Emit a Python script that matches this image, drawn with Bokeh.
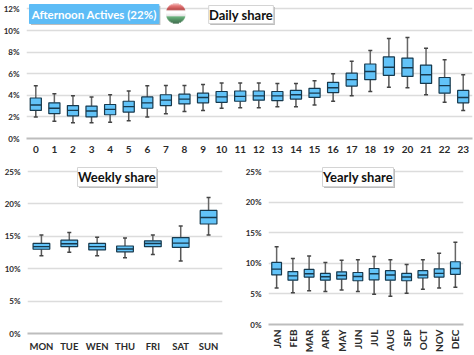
from bokeh.plotting import figure
from bokeh.layouts import column, row
from bokeh.models import Range1d, FixedTicker, Label, ColumnDataSource
from bokeh.embed import file_html
from bokeh.resources import INLINE

hours = [str(i) for i in range(24)]
h_hi = [4.88,4.15,3.95,3.85,4.05,4.4,4.88,4.9,4.9,5.0,5.15,5.15,5.15,5.1,5.1,5.35,6.0,7.15,8.15,9.25,9.35,8.35,7.3,5.9]
h_q3 = [3.75,3.3,3.05,3.0,3.15,3.45,3.85,4.05,4.1,4.2,4.35,4.4,4.4,4.35,4.45,4.65,5.2,6.05,6.9,7.55,7.45,6.8,5.65,4.45]
h_med = [3.1,2.8,2.6,2.55,2.7,2.95,3.3,3.55,3.65,3.8,3.85,3.9,3.95,3.95,4.05,4.2,4.7,5.45,6.2,6.6,6.55,5.9,4.9,3.8]
h_q1 = [2.6,2.3,2.1,2.0,2.2,2.45,2.8,3.05,3.2,3.3,3.35,3.45,3.55,3.5,3.65,3.8,4.25,4.85,5.45,5.85,5.75,5.1,4.2,3.3]
h_lo = [2.0,1.6,1.45,1.45,1.5,1.65,2.0,2.3,2.5,2.6,2.8,2.85,2.85,2.95,2.95,3.1,3.45,3.95,4.35,4.75,4.7,4.05,3.35,2.6]

days = ["MON","TUE","WEN","THU","FRI","SAT","SUN"]
d_hi = [15.2,15.6,14.85,14.75,15.2,16.6,21.0]
d_q3 = [13.9,14.4,13.9,13.5,14.3,14.8,19.0]
d_med = [13.4,13.85,13.4,13.05,13.9,13.95,17.9]
d_q1 = [13.0,13.4,12.9,12.6,13.4,13.3,16.9]
d_lo = [12.0,12.55,12.0,11.7,12.2,11.2,15.2]

months = ["JAN","FEB","MAR","APR","MAY","JUN","JUL","AUG","SEP","OCT","NOV","DEC"]
m_hi = [12.7,10.8,11.2,10.15,10.5,10.6,11.1,10.6,9.8,10.6,11.65,13.45]
m_q3 = [10.15,8.65,9.0,8.35,8.6,8.5,9.15,8.8,8.35,8.8,9.1,10.25]
m_med = [9.05,7.95,8.3,7.8,8.0,7.85,8.3,8.1,7.75,8.1,8.35,9.15]
m_q1 = [8.1,7.25,7.75,7.25,7.4,7.15,7.3,7.25,7.15,7.6,7.75,8.2]
m_lo = [5.95,5.2,5.5,5.4,5.65,5.4,4.95,4.6,5.1,5.75,5.95,6.1]

TICK_FONT = "Lato"
BOX = "#62c3f8"
EDGE = "#17394d"


def panel(cats, hi, q3, med, q1, lo, yticks, fx, fy, size, frame, px_per, x_size, standoff, orient=0):
    """frame = page px (left, right, top, bottom of the plot area)."""
    left, right, top, bottom = frame
    w, h = size
    n = len(cats)
    p = figure(width=w, height=h, output_backend="svg", toolbar_location=None,
               x_range=Range1d(-0.5, n - 0.5),
               y_range=Range1d(0, (bottom - top) / px_per),
               min_border_left=left - fx, min_border_right=fx + w - right,
               min_border_top=top - fy, min_border_bottom=fy + h - bottom,
               outline_line_color=None, background_fill_color=None, border_fill_color=None)
    p.xgrid.visible = False
    p.ygrid.grid_line_color = "#dcdcdc"
    p.ygrid.grid_line_width = 1.6
    p.yaxis.ticker = FixedTicker(ticks=yticks)
    p.yaxis.major_label_overrides = {t: f"{t}%" for t in yticks}
    p.xaxis.ticker = FixedTicker(ticks=list(range(n)))
    p.xaxis.major_label_overrides = {i: c for i, c in enumerate(cats)}
    for ax in (p.xaxis[0], p.yaxis[0]):
        ax.major_tick_line_color = None
        ax.minor_tick_line_color = None
        ax.major_tick_out = 0
        ax.major_tick_in = 0
        ax.minor_tick_out = 0
        ax.minor_tick_in = 0
        ax.major_label_text_font = TICK_FONT
        ax.major_label_text_font_style = "bold"
        ax.major_label_text_color = "#2b2b2b"
    p.yaxis.axis_line_color = None
    p.xaxis.axis_line_color = "#bdbdbd"
    p.xaxis.axis_line_width = 1.8
    p.yaxis.major_label_text_font_size = "8px"
    p.yaxis.major_label_standoff = 7
    p.xaxis.major_label_text_font_size = x_size
    p.xaxis.major_label_standoff = standoff
    if orient:
        p.xaxis.major_label_orientation = orient
    xs = list(range(n))
    src = ColumnDataSource(dict(x=xs, x0=[i - 0.3 for i in xs], x1=[i + 0.3 for i in xs],
                                hi=hi, q3=q3, med=med, q1=q1, lo=lo))
    p.segment("x", "q3", "x", "hi", source=src, line_color="#666666", line_width=1.5)
    p.segment("x", "q1", "x", "lo", source=src, line_color="#555555", line_width=1.5)
    p.scatter("x", "hi", source=src, marker="dash", size=4, line_color="#444444", line_width=1.5)
    p.scatter("x", "lo", source=src, marker="dash", size=4, line_color="#444444", line_width=1.5)
    p.vbar("x", 0.6, "q1", "q3", source=src, fill_color=BOX, line_color=EDGE, line_width=1.2)
    p.segment("x0", "med", "x1", "med", source=src, line_color=EDGE, line_width=1.4)

    def dx(px):
        return -0.5 + (px - left) / (right - left) * n

    def dy(py):
        return (bottom - py) / px_per

    return p, dx, dy


def title_box(p, dx, dy, x0, x1, y0, y1, text, size, fill="#ffffff", color="#111111", edge="#d4d4d4"):
    p.quad(left=[dx(x0 + 1.5)], right=[dx(x1 + 1.5)], top=[dy(y0 + 1.5)], bottom=[dy(y1 + 1.5)],
           fill_color="#bdbdbd", line_color=None)
    p.quad(left=[dx(x0)], right=[dx(x1)], top=[dy(y0)], bottom=[dy(y1)],
           fill_color=fill, line_color=edge, line_width=1)
    p.add_layout(Label(x=dx((x0 + x1) / 2), y=dy((y0 + y1) / 2), text=text, text_align="center",
                       text_baseline="middle", text_font="Lato", text_font_style="bold",
                       text_font_size=size, text_color=color))


top, dx, dy = panel(hours, h_hi, h_q3, h_med, h_q1, h_lo, [0, 2, 4, 6, 8, 10, 12],
                    0, 0, (474, 160), (24, 472, 1, 138), 10.8, "10px", 7)
title_box(top, dx, dy, 27, 157, 4, 23, "Afternoon Actives (22%)", "11.5px",
          fill="#5dbcf6", color="#ffffff", edge="#5dbcf6")
title_box(top, dx, dy, 207, 272, 5, 23, "Daily share", "13px")

# round flag badge
cx, cy, r = 174, 13, 10
for i in range(20):
    yy = -r + i + 0.5
    half = (r * r - yy * yy) ** 0.5
    if i < 7:
        col = ["#e8a0a0", "#e57a7a", "#d94f4f", "#cf3a3a", "#c42f2f", "#b82828", "#aa2222"][i]
    elif i < 13:
        col = ["#f4f4f4", "#ffffff", "#ffffff", "#f4f4f4", "#e8e8e8", "#dddddd"][i - 7]
    else:
        col = ["#3d9a55", "#2f8a46", "#237a3a", "#1b6d31", "#15602a", "#105424", "#0c481e"][i - 13]
    top.quad(left=[dx(cx - half)], right=[dx(cx + half)], top=[dy(cy + yy - 0.5)], bottom=[dy(cy + yy + 0.5)],
             fill_color=col, line_color=None)

wk, dx2, dy2 = panel(days, d_hi, d_q3, d_med, d_q1, d_lo, [0, 5, 10, 15, 20, 25],
                     0, 160, (237, 204), (27, 222, 161, 333), 6.48, "9.5px", 7)
title_box(wk, dx2, dy2, 77, 156, 167, 186, "Weekly share", "13px")

yr, dx3, dy3 = panel(months, m_hi, m_q3, m_med, m_q1, m_lo, [0, 5, 10, 15, 20, 25],
                     237, 160, (237, 195), (268, 463, 161, 324), 6.12, "10px", 5, orient=1.5708)
title_box(yr, dx3, dy3, 322, 393, 167, 186, "Yearly share", "13px")

layout = column(top, row(wk, yr, spacing=0), spacing=0, margin=(0, 0, -9, 0))
open("out.html", "w").write(file_html(layout, INLINE))
